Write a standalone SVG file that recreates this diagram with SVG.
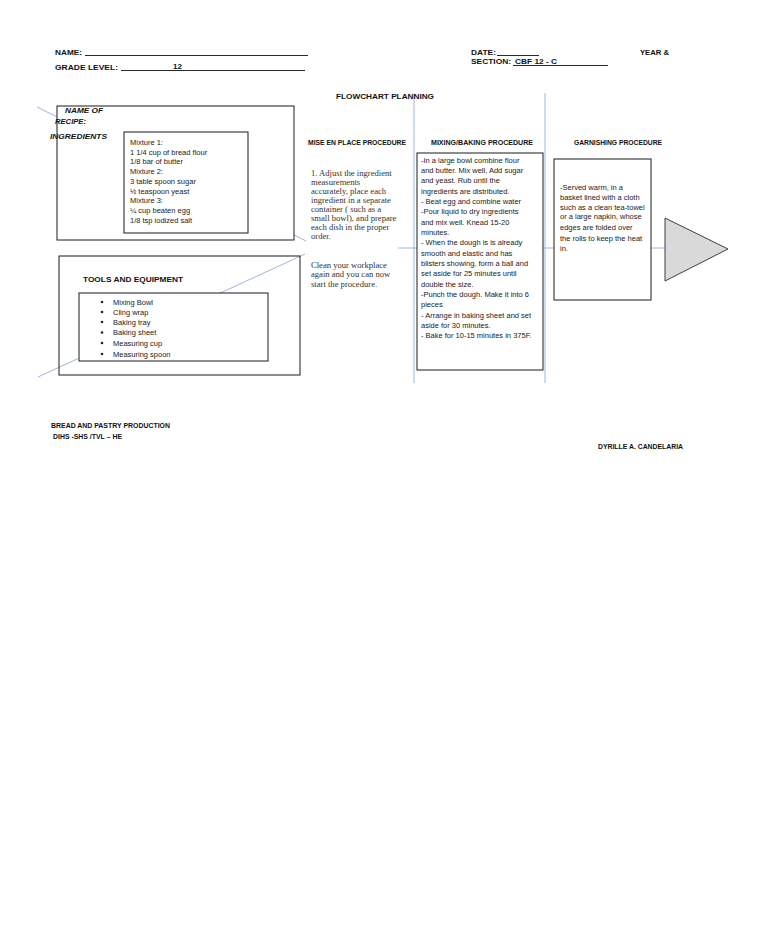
<svg xmlns="http://www.w3.org/2000/svg" width="768" height="932" viewBox="0 0 768 932">
<style>
.bg{fill:#ffffff}
.hd{font-family:"Liberation Sans",Arial,sans-serif;font-weight:bold;font-size:8px;fill:#111}
.ul{stroke:#111;stroke-width:0.9}
.box{fill:none;stroke:#1a1a1a;stroke-width:1}
.wbox{fill:#ffffff;stroke:#1a1a1a;stroke-width:1}
.lbl{font-family:"Liberation Sans",Arial,sans-serif;font-weight:bold;font-style:italic;font-size:7.5px;fill:#111}
.sm{font-family:"Liberation Sans",Arial,sans-serif;font-size:7.5px;fill:#222}
.bh{font-family:"Liberation Sans",Arial,sans-serif;font-weight:bold;font-size:6.8px;fill:#111}
.sf{font-family:"Liberation Serif","Times New Roman",serif;font-size:8.6px;fill:#333}
.con{stroke:#9fb6de;stroke-width:1;fill:none}
</style>
<rect class="bg" x="0" y="0" width="768" height="932"/>

<g id="connectors">
  <line class="con" x1="37" y1="107" x2="57" y2="117"/>
  <line class="con" x1="294" y1="235" x2="306" y2="241"/>
  <line class="con" x1="38" y1="377" x2="305" y2="254"/>
  <line class="con" x1="414" y1="93" x2="414" y2="383"/>
  <line class="con" x1="545" y1="93" x2="545" y2="383"/>
  <line class="con" x1="398" y1="248" x2="417" y2="248"/>
  <line class="con" x1="543" y1="248" x2="554" y2="248"/>
  <line class="con" x1="651" y1="248" x2="665" y2="248"/>
</g>

<g id="header">
  <text class="hd" x="55" y="55" textLength="27" lengthAdjust="spacingAndGlyphs">NAME:</text>
  <line class="ul" x1="85" y1="55.5" x2="308" y2="55.5"/>
  <text class="hd" x="55" y="70" textLength="63" lengthAdjust="spacingAndGlyphs">GRADE LEVEL:</text>
  <line class="ul" x1="121" y1="70.5" x2="305" y2="70.5"/>
  <text class="hd" x="173" y="69" font-size="7.5">12</text>
  <text class="hd" x="471" y="55" textLength="25" lengthAdjust="spacingAndGlyphs">DATE:</text>
  <line class="ul" x1="497" y1="55.5" x2="539" y2="55.5"/>
  <text class="hd" x="471" y="64" textLength="40" lengthAdjust="spacingAndGlyphs">SECTION:</text>
  <text class="hd" x="515" y="64" textLength="42" lengthAdjust="spacingAndGlyphs">CBF 12 - C</text>
  <line class="ul" x1="513" y1="65.5" x2="608" y2="65.5"/>
  <text class="hd" x="640" y="55" textLength="29" lengthAdjust="spacingAndGlyphs">YEAR &amp;</text>
</g>

<g id="title">
  <text class="hd" x="336" y="99" textLength="98" lengthAdjust="spacingAndGlyphs">FLOWCHART PLANNING</text>
</g>

<g id="ingredients">
  <rect class="box" x="57" y="106" width="237" height="134"/>
  <text class="lbl" x="65" y="113" textLength="38" lengthAdjust="spacingAndGlyphs">NAME OF</text>
  <text class="lbl" x="55" y="124" textLength="31" lengthAdjust="spacingAndGlyphs">RECIPE:</text>
  <text class="lbl" x="50" y="139" textLength="57" lengthAdjust="spacingAndGlyphs">INGREDIENTS</text>
  <rect class="wbox" x="124" y="132" width="124" height="101"/>
  <g font-size="7.9px">
  <text class="sm" x="130" y="145" font-size="7.9">Mixture 1:</text>
  <text class="sm" x="130" y="154.5" font-size="7.9">1 1/4 cup of bread flour</text>
  <text class="sm" x="130" y="164" font-size="7.9">1/8 bar of butter</text>
  <text class="sm" x="130" y="173.5" font-size="7.9">Mixture 2:</text>
  <text class="sm" x="130" y="183.5" font-size="7.9">3 table spoon sugar</text>
  <text class="sm" x="130" y="193.5" font-size="7.9">½ teaspoon yeast</text>
  <text class="sm" x="130" y="203" font-size="7.9">Mixture 3:</text>
  <text class="sm" x="130" y="213" font-size="7.9">¼ cup beaten egg</text>
  <text class="sm" x="130" y="223" font-size="7.9">1/8 tsp iodized salt</text>
  </g>
</g>

<g id="tools">
  <rect class="box" x="59" y="256" width="241" height="119"/>
  <text class="hd" x="83" y="282" font-size="7.5" textLength="100" lengthAdjust="spacingAndGlyphs">TOOLS AND EQUIPMENT</text>
  <rect class="wbox" x="79" y="293" width="189" height="68"/>
  <g fill="#222">
    <circle cx="102" cy="302" r="1.3"/>
    <circle cx="102" cy="312" r="1.3"/>
    <circle cx="102" cy="322" r="1.3"/>
    <circle cx="102" cy="332.5" r="1.3"/>
    <circle cx="102" cy="343" r="1.3"/>
    <circle cx="102" cy="354" r="1.3"/>
  </g>
  <text class="sm" x="113" y="304.5" font-size="7.6">Mixing Bowl</text>
  <text class="sm" x="113" y="314.5" font-size="7.6">Cling wrap</text>
  <text class="sm" x="113" y="324.5" font-size="7.6">Baking tray</text>
  <text class="sm" x="113" y="335" font-size="7.6">Baking sheet</text>
  <text class="sm" x="113" y="345.5" font-size="7.6">Measuring cup</text>
  <text class="sm" x="113" y="356.5" font-size="7.6">Measuring spoon</text>
</g>

<g id="mise-en-place">
  <text class="bh" x="308" y="145" textLength="98" lengthAdjust="spacingAndGlyphs">MISE EN PLACE PROCEDURE</text>
  <text class="sf" x="311" y="176">1. Adjust the ingredient</text>
  <text class="sf" x="311" y="185">measurements</text>
  <text class="sf" x="311" y="194">accurately, place each</text>
  <text class="sf" x="311" y="203">ingredient in a separate</text>
  <text class="sf" x="311" y="212">container ( such as a</text>
  <text class="sf" x="311" y="221">small bowl), and prepare</text>
  <text class="sf" x="311" y="230">each dish in the proper</text>
  <text class="sf" x="311" y="239">order.</text>
  <text class="sf" x="311" y="268">Clean your workplace</text>
  <text class="sf" x="311" y="277">again and you can now</text>
  <text class="sf" x="311" y="287">start the procedure.</text>
</g>

<g id="mixing-baking">
  <text class="bh" x="431" y="145" textLength="102" lengthAdjust="spacingAndGlyphs">MIXING/BAKING PROCEDURE</text>
  <rect class="wbox" x="417" y="153" width="126" height="217"/>
  <text class="sm" x="421" y="162.5">-In a large bowl combine flour</text>
  <text class="sm" x="421" y="172.5">and butter. Mix well, Add sugar</text>
  <text class="sm" x="421" y="183">and yeast. Rub until the</text>
  <text class="sm" x="421" y="193.5">ingredients are distributed.</text>
  <text class="sm" x="421" y="203.5">- Beat egg and combine water</text>
  <text class="sm" x="421" y="214">-Pour liquid to dry ingredients</text>
  <text class="sm" x="421" y="224.5">and mix well. Knead 15-20</text>
  <text class="sm" x="421" y="234.5">minutes.</text>
  <text class="sm" x="421" y="245">- When the dough is is already</text>
  <text class="sm" x="421" y="255.5">smooth and elastic and has</text>
  <text class="sm" x="421" y="265.5">blisters showing, form a ball and</text>
  <text class="sm" x="421" y="276">set aside for 25 minutes until</text>
  <text class="sm" x="421" y="286.5">double the size.</text>
  <text class="sm" x="421" y="296.5">-Punch the dough. Make it into 6</text>
  <text class="sm" x="421" y="307">pieces</text>
  <text class="sm" x="421" y="317.5">- Arrange in baking sheet and set</text>
  <text class="sm" x="421" y="327.5">aside for 30 minutes.</text>
  <text class="sm" x="421" y="338">- Bake for 10-15 minutes in 375F.</text>
</g>

<g id="garnishing">
  <text class="bh" x="574" y="145" textLength="88" lengthAdjust="spacingAndGlyphs">GARNISHING PROCEDURE</text>
  <rect class="wbox" x="554" y="159" width="97" height="141"/>
  <text class="sm" x="560" y="190">-Served warm, in a</text>
  <text class="sm" x="560" y="200">basket lined with a cloth</text>
  <text class="sm" x="560" y="209.5">such as a clean tea-towel</text>
  <text class="sm" x="560" y="219">or a large napkin, whose</text>
  <text class="sm" x="560" y="230">edges are folded over</text>
  <text class="sm" x="560" y="240.5">the rolls to keep the heat</text>
  <text class="sm" x="560" y="250.5">in.</text>
</g>

<g id="end-triangle">
  <polygon points="665,218 728,249 665,281" fill="#d9d9d9" stroke="#404040" stroke-width="1"/>
</g>

<g id="footer">
  <text class="bh" x="51" y="428" textLength="119" lengthAdjust="spacingAndGlyphs">BREAD AND PASTRY PRODUCTION</text>
  <text class="bh" x="53" y="438.5" textLength="69" lengthAdjust="spacingAndGlyphs">DIHS -SHS /TVL – HE</text>
  <text class="bh" x="598" y="449" textLength="85" lengthAdjust="spacingAndGlyphs">DYRILLE A. CANDELARIA</text>
</g>
</svg>
